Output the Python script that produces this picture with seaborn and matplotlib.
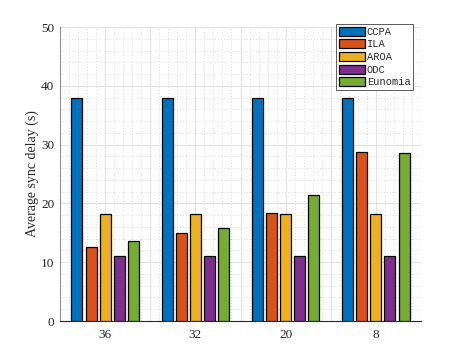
import numpy as np
import pandas as pd
import seaborn as sns
import matplotlib.pyplot as plt

# values
groups = ['36', '32', '20', '8']
methods = ['CCPA', 'ILA', 'AROA', 'ODC', 'Eunomia']
ccpa = [38.0, 38.0, 38.0, 38.0]
ila = [12.6, 15.0, 18.4, 28.7]
aroa = [18.2, 18.2, 18.2, 18.2]
odc = [11.1, 11.1, 11.1, 11.1]
eunomia = [13.6, 15.8, 21.4, 28.6]
colors = ['#0072BD', '#D95319', '#EDB120', '#7E2F8E', '#77AC30']

rows = []
for m, vals in zip(methods, [ccpa, ila, aroa, odc, eunomia]):
    for g, v in zip(groups, vals):
        rows.append({'group': g, 'method': m, 'delay': v})
df = pd.DataFrame(rows)

sns.set_style('white')
plt.rcParams['font.family'] = ['Liberation Serif', 'DejaVu Serif']

fig = plt.figure(figsize=(4.65, 3.61), dpi=100)
ax = fig.add_axes([60/465, 1 - 321/361, (421-60)/465, (321-27)/361])

sns.barplot(data=df, x='group', y='delay', hue='method', order=groups,
            hue_order=methods, palette=colors, saturation=1, width=0.78,
            gap=0.22, edgecolor='black', linewidth=0.9, ax=ax, zorder=3)

ax.set_xlim(-0.5, 3.5)
ax.set_ylim(0, 50)
ax.set_xticks(np.arange(-0.5, 3.51, 0.5))
ax.set_xticklabels(['', '36', '', '32', '', '20', '', '8', ''])
ax.set_xticks(np.arange(-0.5, 3.51, 0.1), minor=True)
ax.set_yticks(np.arange(0, 51, 10))
ax.set_yticks(np.arange(0, 51, 2), minor=True)

ax.grid(True, which='major', color='#e3e3e3', linewidth=0.8, linestyle='-', zorder=0)
ax.grid(True, which='minor', color='#d0d0d0', linewidth=0.6, linestyle=(0, (1, 2.5)), zorder=0)
ax.set_axisbelow(True)

ax.tick_params(which='major', direction='in', length=3, width=0.6, color='#404040',
               labelsize=9.5, labelcolor='#262626')
ax.tick_params(which='minor', length=0)
ax.tick_params(axis='x', pad=6)
ax.tick_params(axis='y', pad=4)

ax.set_xlabel('')
ax.set_ylabel('Average sync delay (s)', fontsize=10, color='#262626')
ax.yaxis.set_label_coords(-0.058, 0.5)

for s in ['top', 'right']:
    ax.spines[s].set_visible(False)
ax.spines['left'].set_color('#909090')
ax.spines['left'].set_linewidth(0.8)
ax.spines['bottom'].set_color('#262626')
ax.spines['bottom'].set_linewidth(0.8)

handles, labels = ax.get_legend_handles_labels()
leg = ax.legend(handles, labels, loc='upper right', bbox_to_anchor=(0.978, 1.01),
                borderaxespad=0, fancybox=False, framealpha=1, edgecolor='#404040',
                prop={'family': 'Liberation Mono', 'size': 7.5}, handlelength=2.5,
                handleheight=0.95, labelspacing=0.25, handletextpad=0.2,
                borderpad=0.25)
leg.get_frame().set_linewidth(0.6)

fig.savefig('out.png', dpi=100)
